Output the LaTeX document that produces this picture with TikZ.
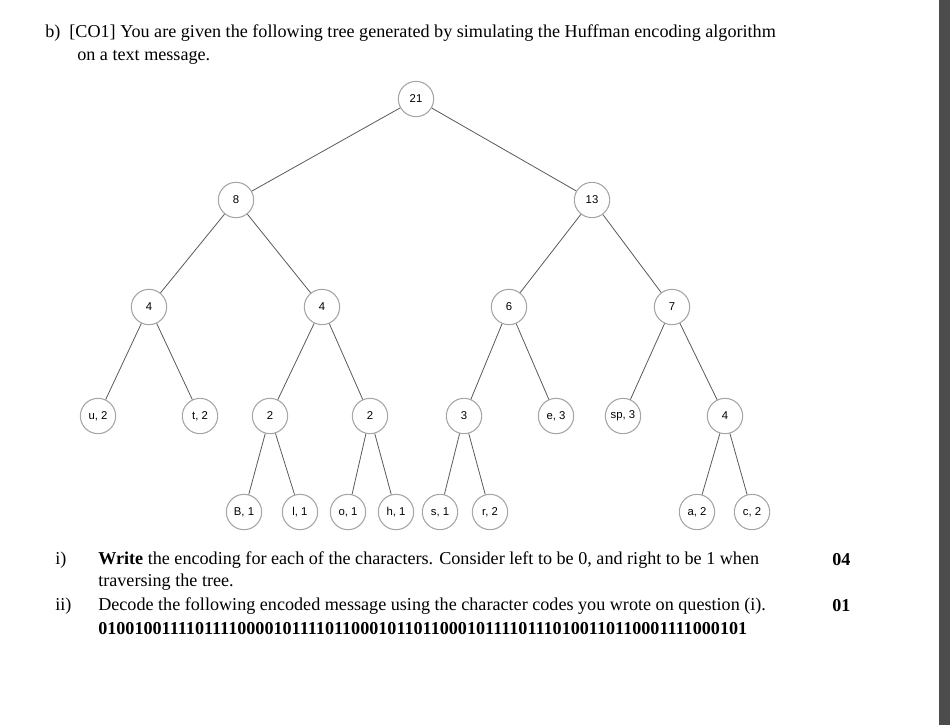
\documentclass[tikz,border=0pt]{standalone}
\usepackage{fontspec}
\setmainfont{Liberation Serif}
\setsansfont{Liberation Sans}
\begin{document}
\begin{tikzpicture}[x=0.75pt,y=-0.75pt,
  nd/.style={circle,draw=black!35,line width=0.8pt,minimum size=26.5pt,inner sep=0pt,font=\sffamily\fontsize{8.5}{9}\selectfont},
  ed/.style={draw=black!65,line width=0.6pt},
  tx/.style={anchor=west,inner sep=0pt,font=\fontsize{13.6}{15}\selectfont}]
\useasboundingbox (0,0) rectangle (950,725);
\fill[black!70] (939,0) rectangle (950,725);
\node[tx] (t1) at (45,33) {b)\ \ [CO1] You are given the following tree generated by simulating the Huffman encoding algorithm};
\node[tx] (t2) at (77,57) {on a text message.};
\node[nd] (r) at (416,99) {21};
\node[nd] (a) at (236,200) {8};
\node[nd] (b) at (592,200) {13};
\node[nd] (a1) at (149,307) {4};
\node[nd] (a2) at (322,307) {4};
\node[nd] (b1) at (509,307) {6};
\node[nd] (b2) at (672,307) {7};
\node[nd] (u) at (98,416) {u, 2};
\node[nd] (t) at (200,416) {t, 2};
\node[nd] (c1) at (270,416) {2};
\node[nd] (c2) at (370,416) {2};
\node[nd] (c3) at (464,416) {3};
\node[nd] (e) at (556,416) {e, 3};
\node[nd] (sp) at (623,416) {sp, 3};
\node[nd] (c4) at (725,416) {4};
\node[nd] (B) at (244,512) {B, 1};
\node[nd] (l) at (300,512) {l, 1};
\node[nd] (o) at (348,512) {o, 1};
\node[nd] (h) at (396,512) {h, 1};
\node[nd] (s) at (440,512) {s, 1};
\node[nd] (rr) at (490,512) {r, 2};
\node[nd] (aa) at (697,512) {a, 2};
\node[nd] (cc) at (752,512) {c, 2};
\foreach \p/\q in {r/a,r/b,a/a1,a/a2,b/b1,b/b2,a1/u,a1/t,a2/c1,a2/c2,b1/c3,b1/e,b2/sp,b2/c4,c1/B,c1/l,c2/o,c2/h,c3/s,c3/rr,c4/aa,c4/cc}
  \path[ed] (\p) -- (\q);
\node[tx] (i1) at (55,560) {i)};
\node[tx] (i1a) at (98,560) {\textbf{Write} the encoding for each of the characters. Consider left to be 0, and right to be 1 when};
\node[tx] (i1b) at (98,582) {traversing the tree.};
\node[tx] (m1) at (832,560) {\textbf{04}};
\node[tx] (i2) at (55,606) {ii)};
\node[tx] (i2a) at (98,606) {Decode the following encoded message using the character codes you wrote on question (i).};
\node[tx] (m2) at (832,606) {\textbf{01}};
\node[tx] (bits) at (98,629) {\textbf{01001001111011110000101111011000101101100010111101110100110110001111000101}};
\end{tikzpicture}
\end{document}
